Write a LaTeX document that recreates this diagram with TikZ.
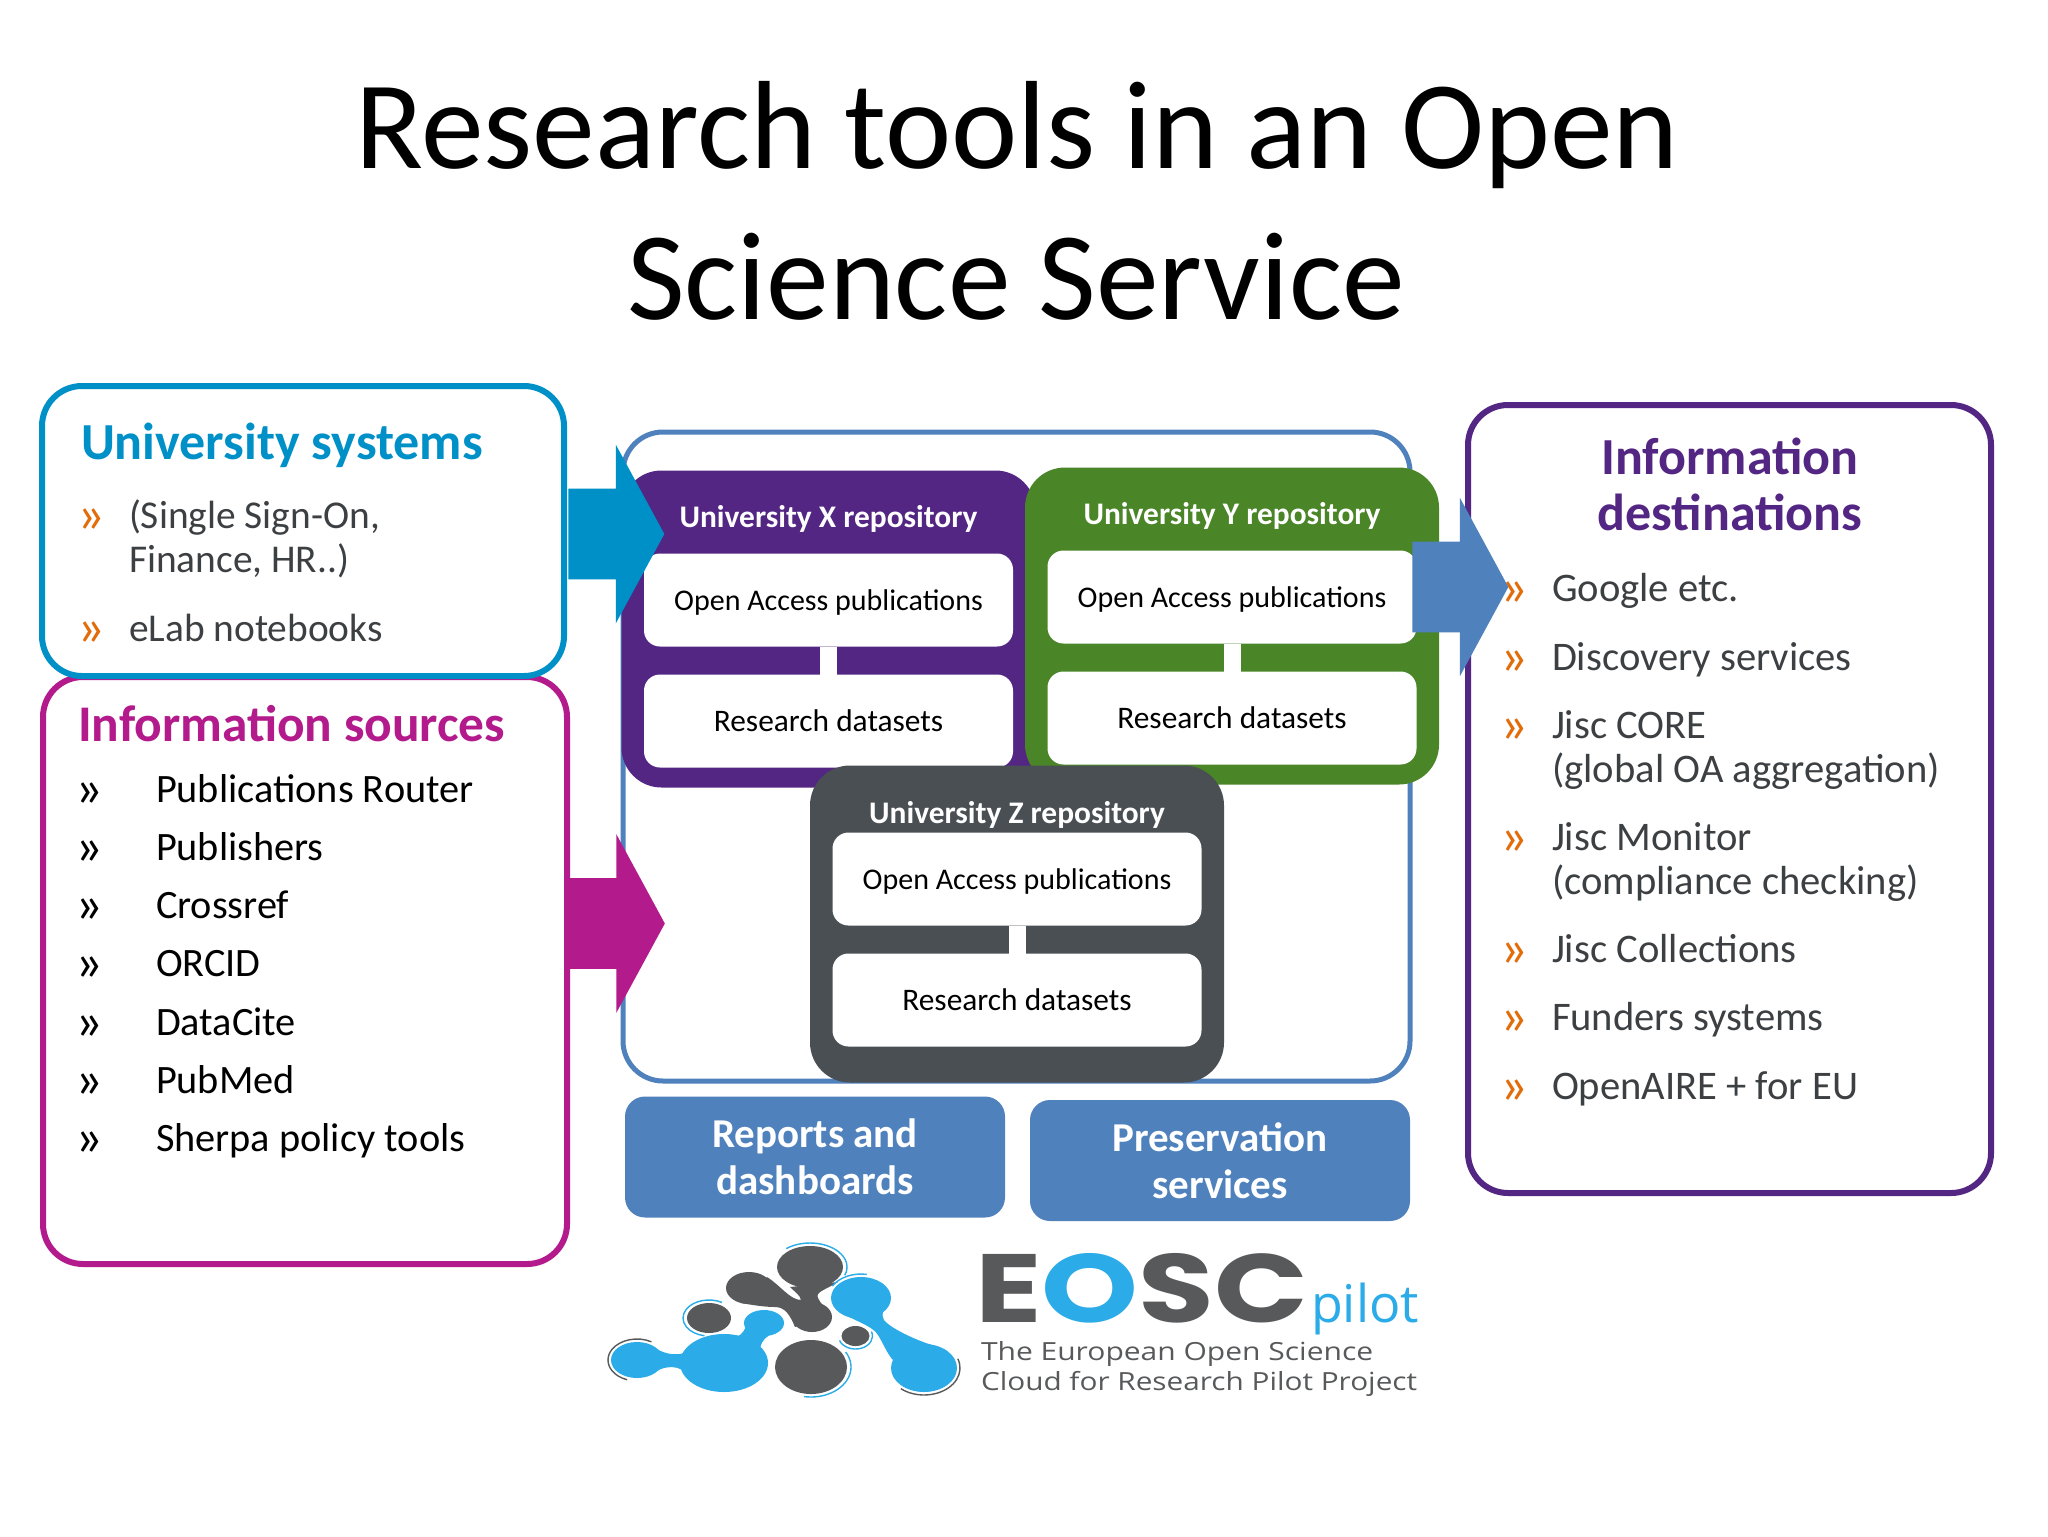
\documentclass[tikz,border=0pt]{standalone}
\usepackage{fontspec}
\setmainfont{Carlito}
\newfontfamily\logofont{Poppins}
\newfontfamily\tagfont{Open Sans}
\usetikzlibrary{positioning,shapes.arrows}
\definecolor{sysblue}{HTML}{0090C8}
\definecolor{srcpink}{HTML}{B31B8D}
\definecolor{dstpurple}{HTML}{532683}
\definecolor{repogreen}{HTML}{4A8527}
\definecolor{repogrey}{HTML}{4A4F54}
\definecolor{slateblue}{HTML}{4F81BD}
\definecolor{bulletorange}{HTML}{E36C0A}
\definecolor{bodygrey}{HTML}{3C4043}
\definecolor{logoblue}{HTML}{2BABE8}
\definecolor{logogrey}{HTML}{58595B}
\begin{document}
\begin{tikzpicture}[x=.5pt, y=-.5pt, every node/.style={inner sep=0pt, outer sep=0pt},
    panel/.style={draw, line width=3pt, rounded corners=20pt, fill=white, anchor=north west},
    repobox/.style={rounded corners=20pt, minimum width=207pt, minimum height=158.5pt},
    whitebox/.style={fill=white, rounded corners=8pt, minimum width=184.5pt, minimum height=46.5pt,
        text height=10pt, text depth=0pt, font=\fontsize{15}{18}\selectfont, text=black},
    bottombox/.style={fill=slateblue, rounded corners=10pt, minimum width=190pt, minimum height=60.5pt,
        text=white, align=center, font=\fontsize{20.5}{23.6}\selectfont\bfseries},
    blockarrow/.style={single arrow, single arrow tip angle=123, single arrow head extend=22pt,
        inner ysep=22.5pt, minimum height=48pt, anchor=center},
    listtext/.style={anchor=base west, align=left, font=\fontsize{20.3}{22}\selectfont},
    listmark/.style={anchor=base west, font=\fontsize{27}{28}\selectfont},
    headtext/.style={font=\fontsize{26}{28}\selectfont\bfseries}]
\useasboundingbox (0,0) rectangle (2048,1536);
\fill[white] (0,0) rectangle (2048,1536);

\node[anchor=base, font=\fontsize{62.75}{75}\selectfont] (title1) at (1017,168) {Research tools in an Open};
\node[anchor=base, font=\fontsize{62.75}{75}\selectfont] (title2) at (1016,319) {Science Service};

% left panels
\node[panel, draw=srcpink, minimum width=262pt, minimum height=293.5pt] (srcpanel) at (43,677) {};
\node[panel, draw=sysblue, minimum width=261pt, minimum height=145pt] (syspanel) at (42,386) {};
\node[headtext, anchor=base west, text=sysblue] (systitle) at (81,459) {University systems};
\node[headtext, anchor=base west, text=srcpink, font=\fontsize{25.7}{28}\selectfont\bfseries] (srctitle) at (78,741) {Information sources};

\node[listmark, text=bulletorange] (sysmark1) at (77.5,532) {»};
\node[listtext, text=bodygrey, font=\fontsize{19.7}{22}\selectfont] (sysitem1) at (129,572) {(Single Sign-On,\\Finance, HR..)};
\node[listmark, text=bulletorange] (sysmark2) at (77.5,645) {»};
\node[listtext, text=bodygrey, font=\fontsize{19.7}{22}\selectfont] (sysitem2) at (129,641) {eLab notebooks};

\foreach \i/\ypos/\itemtext in {1/802/Publications Router, 2/860/Publishers, 3/918/Crossref,
    4/976.5/ORCID, 5/1035/DataCite, 6/1093/PubMed, 7/1151/Sherpa policy tools} {
  \node[listmark] (srcmark\i) at (75,\ypos+4) {»};
  \node[listtext, font=\fontsize{20.15}{22}\selectfont] (srcitem\i) at (156,\ypos) {\itemtext};
}

% centre
\node[panel, draw=slateblue, line width=2.5pt, minimum width=393.5pt, minimum height=324.5pt] (repopanel) at (623,432) {};

\foreach \rname/\cx/\cy/\col/\letter/\lup/\oaup in {x/828.5/629/dstpurple/X/110/29, y/1232/626/repogreen/Y/110/29, z/1017/924/repogrey/Z/109/45} {
  \node[repobox, fill=\col] (repo\rname) at (\cx,\cy) {};
  \node[font=\fontsize{15.7}{18}\selectfont\bfseries, text=white] (label\rname) at (\cx,\cy-\lup) {University \letter{} repository};
  \node[whitebox] (oa\rname) at (\cx,\cy-\oaup) {Open Access publications};
  \node[whitebox, below=14pt of oa\rname, font=\fontsize{15.7}{18}\selectfont] (data\rname) {Research datasets};
  \draw[white, line width=8.5pt] (oa\rname) -- (data\rname);
}

\node[bottombox] (reports) at (815,1157) {Reports and\\dashboards};
\node[bottombox] (preserve) at (1220,1160.5) {Preservation\\services};

% right panel
\node[panel, draw=dstpurple, minimum width=261.5pt, minimum height=394pt] (dstpanel) at (1468,405) {};
\node[headtext, text=dstpurple, align=center, anchor=base] (dsttitle) at (1730,530) {Information\\destinations};

\foreach \i/\ypos/\markpos/\itemtext in {1/601/605/Google etc., 2/670/674/Discovery services,
    3/782/742/{Jisc CORE\\(global OA aggregation)}, 4/894/854/{Jisc Monitor\\(compliance checking)},
    5/962/966/Jisc Collections, 6/1030/1034/Funders systems, 7/1099/1103/OpenAIRE + for EU} {
  \node[listmark, text=bulletorange] (dstmark\i) at (1500.5,\markpos) {»};
  \node[listtext, text=bodygrey] (dstitem\i) at (1552,\ypos) {\itemtext};
}

% block arrows
\node[blockarrow, fill=sysblue] (sysarrow) at (604,534) {};
\node[blockarrow, fill=srcpink] (srcarrow) at (604.5,923.5) {};
\node[blockarrow, fill=slateblue] (dstarrow) at (1448,587) {};

% logo
\fill[logogrey] (767,1277) .. controls (780,1285) and (790,1300) .. (801,1300) .. controls (800,1295) and (795,1292) .. (790,1287)
  -- (838,1282) .. controls (825,1290) and (815,1292) .. (818,1298) .. controls (820,1303) and (826,1308) .. (830,1315)
  -- (795,1327) .. controls (790,1315) and (785,1307) .. (775,1307) .. controls (765,1307) and (752,1305) .. (741,1303) -- cycle;
\fill[logogrey] (810,1267) ellipse [x radius=33, y radius=21];
\fill[logogrey] (749,1288) ellipse [x radius=23, y radius=16];
\fill[logogrey] (812,1317) ellipse [x radius=20, y radius=15];
\fill[logogrey] (709,1318) ellipse [x radius=22, y radius=15];
\fill[logogrey] (811,1367) ellipse [x radius=36, y radius=27];
\fill[logogrey] (855.5,1336) ellipse [x radius=14, y radius=10];
\fill[logoblue] (655,1348) .. controls (670,1357) and (685,1357) .. (703,1343) -- (695,1383) .. controls (685,1366) and (670,1363) .. (655,1372) -- cycle;
\fill[logoblue] (703,1343) .. controls (725,1342) and (742,1340) .. (746,1326) -- (781,1328) .. controls (770,1335) and (755,1340) .. (762,1358) -- cycle;
\fill[logoblue] (838,1310) .. controls (855,1322) and (872,1325) .. (878,1335) .. controls (884,1345) and (888,1355) .. (893,1360)
  -- (935,1346) .. controls (915,1340) and (890,1328) .. (884,1320) .. controls (880,1312) and (885,1308) .. (889,1303) -- cycle;
\fill[logoblue] (637,1360) ellipse [x radius=26, y radius=18];
\fill[logoblue] (724,1363) ellipse [x radius=44, y radius=29];
\fill[logoblue] (764,1323) ellipse [x radius=20, y radius=13];
\fill[logoblue] (861,1298) ellipse [x radius=30, y radius=21];
\fill[logoblue] (924,1368) ellipse [x radius=33, y radius=24];
\foreach \cx/\cy/\rx/\ry/\sa/\ea/\col in {810/1267/18.5/12/130/-20/logoblue, 709/1318/13/9/60/260/logoblue,
    637/1360/14.5/10.5/60/250/logogrey, 811/1367/20/15/30/-100/logoblue, 855.5/1336/8.5/6.5/20/-160/logoblue,
    924/1368/18/13.5/20/-130/logogrey, 861/1298/16.5/12/150/80/logoblue} {
  \draw[\col, line width=.7pt] (\cx,\cy) ++(\sa:\rx pt and \ry pt) arc [start angle=\sa, end angle=\ea, x radius=\rx pt, y radius=\ry pt];
}
\node[anchor=base west, font=\fontsize{48.5}{50}\logofont\bfseries, text=logogrey] (eosc) at (975,1322)
    {\scalebox{1.27}[1]{E\textcolor{logoblue}{O}SC}};
\node[anchor=base west, font=\fontsize{26}{28}\tagfont, text=logoblue] (pilot) at (1311,1322) {pilot};
\node[anchor=base west, font=\fontsize{12.5}{15}\tagfont, text=logogrey] (tagline1) at (981,1360) {\scalebox{1.2}[1]{The European Open Science}};
\node[anchor=base west, font=\fontsize{12.5}{15}\tagfont, text=logogrey] (tagline2) at (981,1390) {\scalebox{1.19}[1]{Cloud for Research Pilot Project}};
\end{tikzpicture}
\end{document}
